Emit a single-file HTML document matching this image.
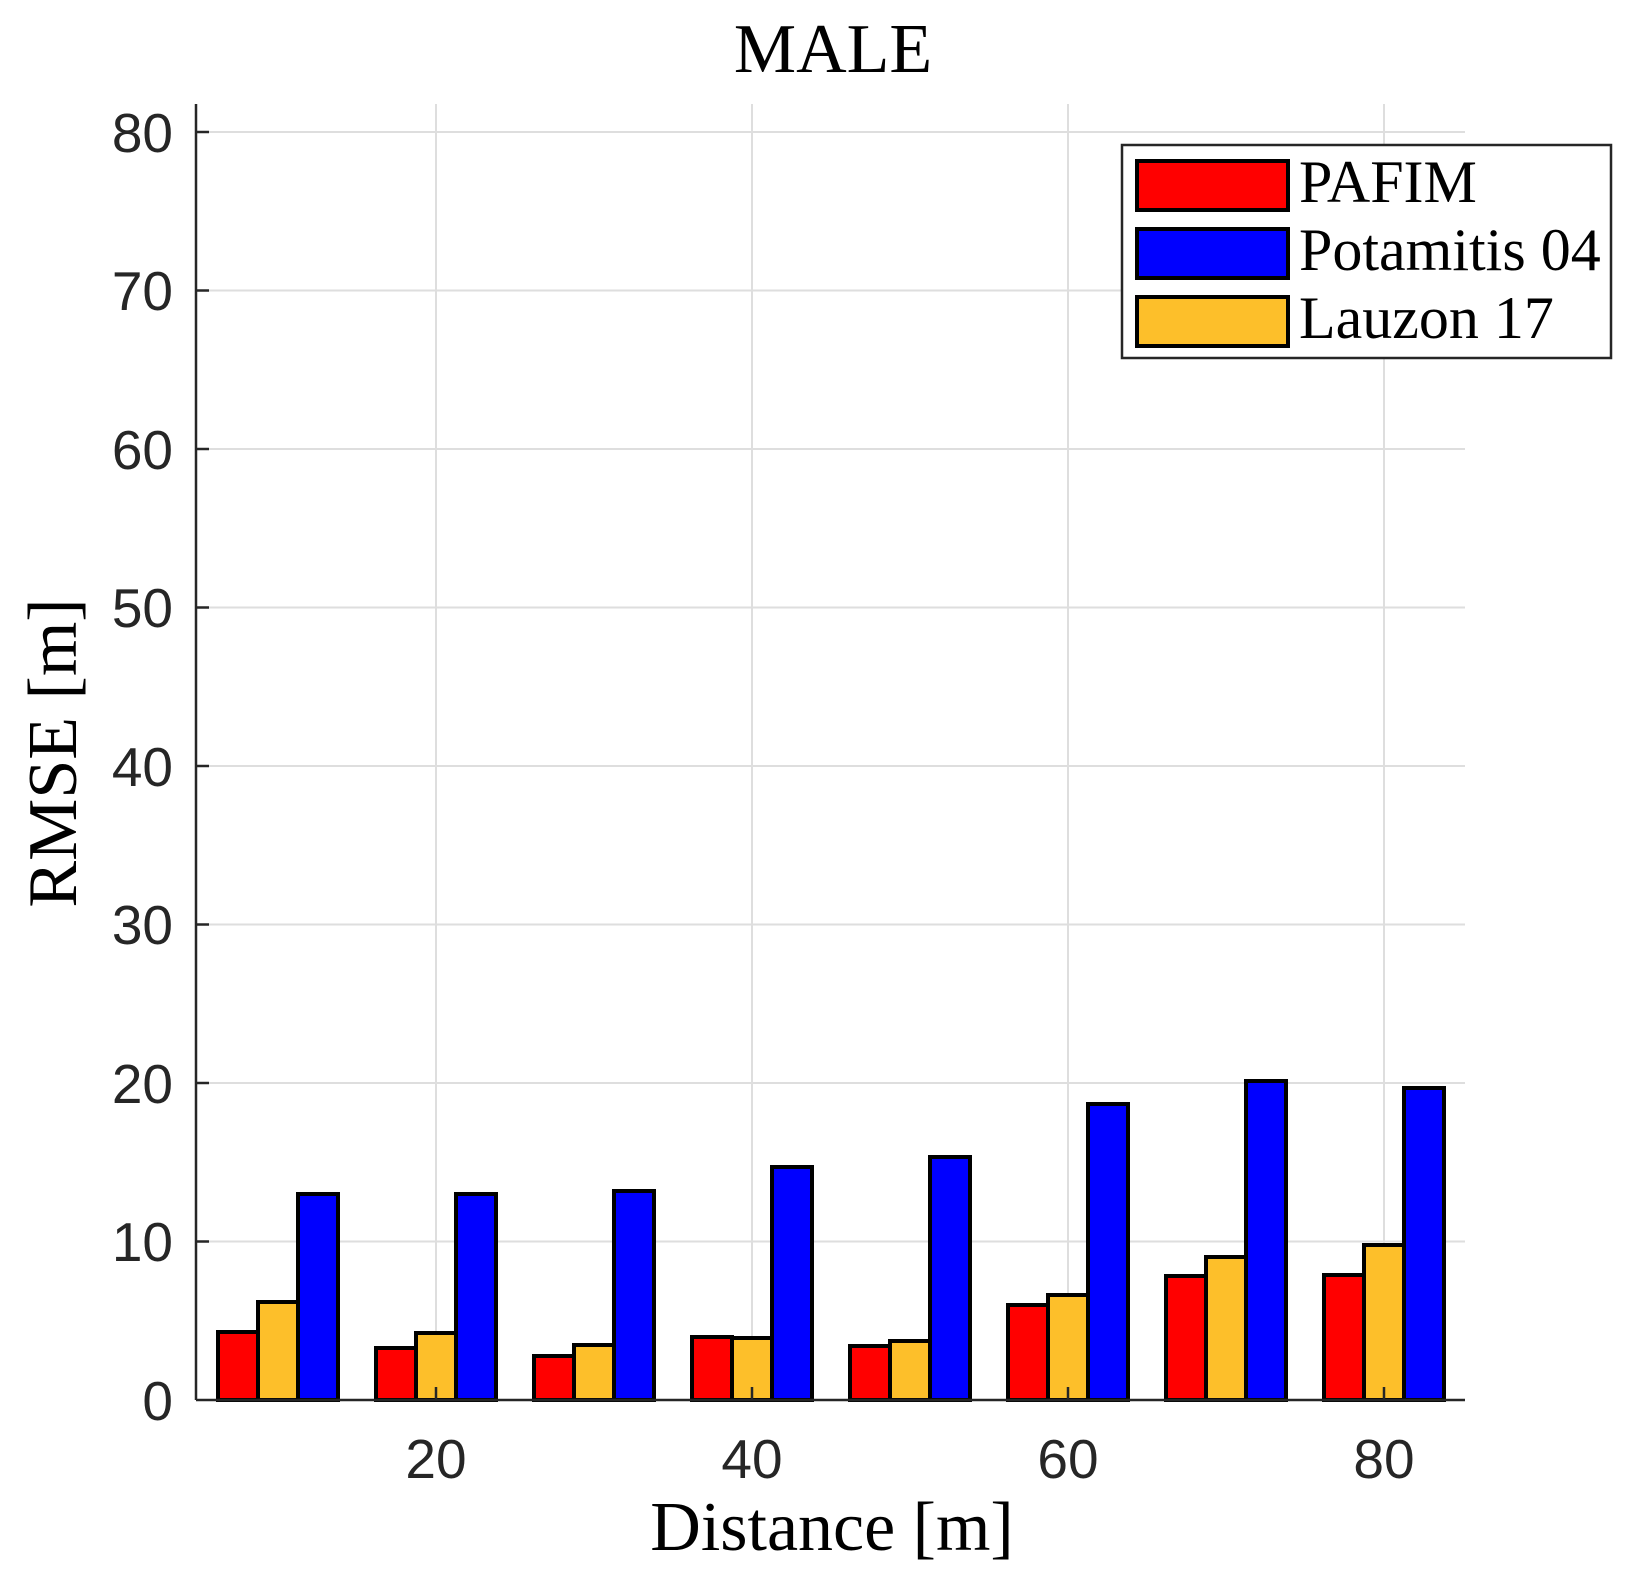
<!DOCTYPE html>
<html><head><meta charset="utf-8"><style>
html,body{margin:0;padding:0;background:#fff;}
svg{display:block;}
.t{font-family:"Liberation Sans",sans-serif;font-size:55px;fill:#262626;}
.s{font-family:"Liberation Serif",serif;fill:#000;}
</style></head><body>
<svg width="1637" height="1578" viewBox="0 0 1637 1578" xmlns="http://www.w3.org/2000/svg">
<rect width="1637" height="1578" fill="#fff"/>
<g stroke="#dedede" stroke-width="2">
<line x1="196" x2="1465" y1="132" y2="132"/><line x1="196" x2="1465" y1="290.5" y2="290.5"/>
<line x1="196" x2="1465" y1="449" y2="449"/><line x1="196" x2="1465" y1="607.5" y2="607.5"/>
<line x1="196" x2="1465" y1="766" y2="766"/><line x1="196" x2="1465" y1="924.5" y2="924.5"/>
<line x1="196" x2="1465" y1="1083" y2="1083"/><line x1="196" x2="1465" y1="1241.5" y2="1241.5"/>
<line x1="436" x2="436" y1="104" y2="1400"/><line x1="752" x2="752" y1="104" y2="1400"/>
<line x1="1068" x2="1068" y1="104" y2="1400"/><line x1="1384" x2="1384" y1="104" y2="1400"/>
</g>
<g stroke="#000" stroke-width="4">
<rect x="218" y="1332" width="40" height="68" fill="#ff0000"/><rect x="258" y="1302" width="40" height="98" fill="#fdbf2a"/><rect x="298" y="1194" width="40" height="206" fill="#0000ff"/>
<rect x="376" y="1348" width="40" height="52" fill="#ff0000"/><rect x="416" y="1333" width="40" height="67" fill="#fdbf2a"/><rect x="456" y="1194" width="40" height="206" fill="#0000ff"/>
<rect x="534" y="1356" width="40" height="44" fill="#ff0000"/><rect x="574" y="1345" width="40" height="55" fill="#fdbf2a"/><rect x="614" y="1191" width="40" height="209" fill="#0000ff"/>
<rect x="692" y="1337" width="40" height="63" fill="#ff0000"/><rect x="732" y="1338" width="40" height="62" fill="#fdbf2a"/><rect x="772" y="1167" width="40" height="233" fill="#0000ff"/>
<rect x="850" y="1346" width="40" height="54" fill="#ff0000"/><rect x="890" y="1341" width="40" height="59" fill="#fdbf2a"/><rect x="930" y="1157" width="40" height="243" fill="#0000ff"/>
<rect x="1008" y="1305" width="40" height="95" fill="#ff0000"/><rect x="1048" y="1295" width="40" height="105" fill="#fdbf2a"/><rect x="1088" y="1104" width="40" height="296" fill="#0000ff"/>
<rect x="1166" y="1276" width="40" height="124" fill="#ff0000"/><rect x="1206" y="1257" width="40" height="143" fill="#fdbf2a"/><rect x="1246" y="1081" width="40" height="319" fill="#0000ff"/>
<rect x="1324" y="1275" width="40" height="125" fill="#ff0000"/><rect x="1364" y="1245" width="40" height="155" fill="#fdbf2a"/><rect x="1404" y="1088" width="40" height="312" fill="#0000ff"/>
</g>
<g stroke="#262626" stroke-width="2.5">
<line x1="196" y1="104" x2="196" y2="1400"/><line x1="196" y1="1400" x2="1465" y2="1400"/>
<line x1="196" x2="209" y1="132" y2="132"/><line x1="196" x2="209" y1="290.5" y2="290.5"/><line x1="196" x2="209" y1="449" y2="449"/><line x1="196" x2="209" y1="607.5" y2="607.5"/><line x1="196" x2="209" y1="766" y2="766"/><line x1="196" x2="209" y1="924.5" y2="924.5"/><line x1="196" x2="209" y1="1083" y2="1083"/><line x1="196" x2="209" y1="1241.5" y2="1241.5"/>
<line x1="436" x2="436" y1="1400" y2="1387"/><line x1="752" x2="752" y1="1400" y2="1387"/><line x1="1068" x2="1068" y1="1400" y2="1387"/><line x1="1384" x2="1384" y1="1400" y2="1387"/>
</g>
<g class="t" text-anchor="end">
<text x="173" y="152">80</text><text x="173" y="310">70</text><text x="173" y="469">60</text><text x="173" y="627">50</text>
<text x="173" y="786">40</text><text x="173" y="944">30</text><text x="173" y="1103">20</text><text x="173" y="1261">10</text><text x="173" y="1420">0</text>
</g>
<g class="t" text-anchor="middle">
<text x="436" y="1478">20</text><text x="752" y="1478">40</text><text x="1068" y="1478">60</text><text x="1384" y="1478">80</text>
</g>
<text class="s" x="833" y="72" font-size="70" text-anchor="middle">MALE</text>
<text class="s" x="832" y="1550" font-size="70" text-anchor="middle" fill="#262626">Distance [m]</text>
<text class="s" transform="translate(76,753) rotate(-90)" font-size="70" text-anchor="middle" fill="#262626">RMSE [m]</text>
<rect x="1122" y="145" width="489" height="213" fill="#fff" stroke="#262626" stroke-width="2.5"/>
<g stroke="#000" stroke-width="4">
<rect x="1137" y="161" width="151" height="49" fill="#ff0000"/>
<rect x="1137" y="229" width="151" height="49" fill="#0000ff"/>
<rect x="1137" y="297" width="151" height="49" fill="#fdbf2a"/>
</g>
<g class="s" font-size="60">
<text x="1299" y="202">PAFIM</text>
<text x="1299" y="270">Potamitis 04</text>
<text x="1299" y="338">Lauzon 17</text>
</g>
</svg>
</body></html>
